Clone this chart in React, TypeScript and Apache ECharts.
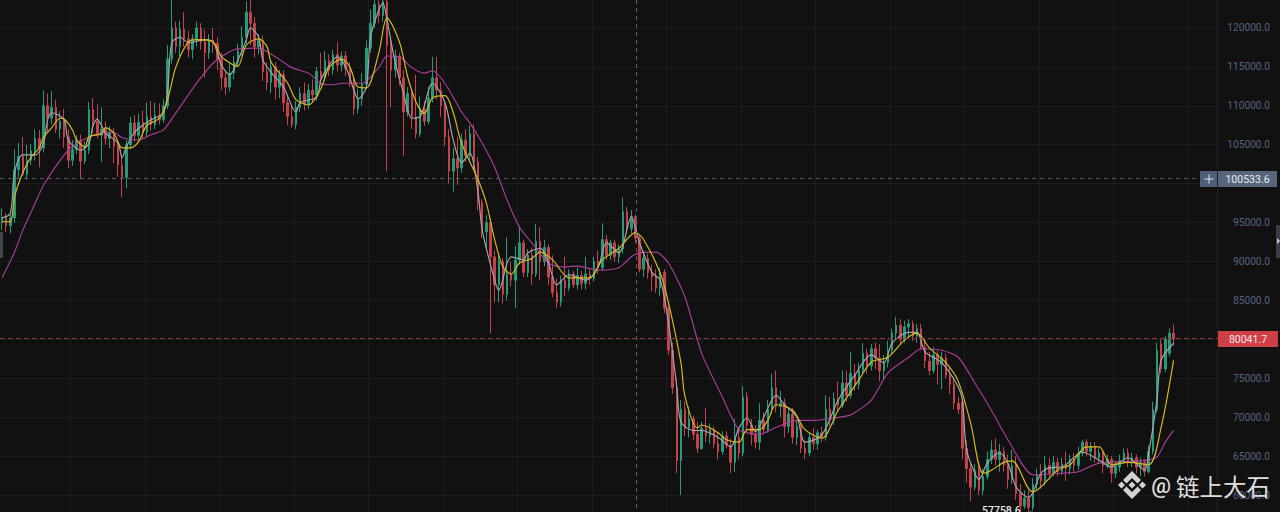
import React, { useEffect, useRef } from "react";
import * as echarts from "echarts";

const opens = [
95000,95600,94600,95600,101800,103500,101200,103000,104200,105800,
104600,110000,108400,109800,107000,108000,106000,103000,104400,105600,
102900,104300,109500,108000,106200,107000,105800,106600,104800,102400,
100800,105000,107800,106200,107900,106600,108600,107600,108800,108200,
110000,116000,120000,117600,119800,118600,117200,118600,120000,118200,
116800,118400,118000,116000,113600,112400,114200,115600,117000,118800,
122000,120600,117600,118400,114400,113000,115000,112400,114000,110400,
108600,107600,109800,111600,110200,112000,111400,114400,113600,115800,
114600,116600,115200,116400,114800,113000,109600,110800,112800,117400,
120600,123000,121600,123400,117800,114600,116400,113600,109200,111600,
108600,106400,109600,108000,111000,113600,112000,110000,106000,101600,
103200,102000,105600,103600,106400,102800,97600,93800,95000,90600,
87000,90000,85800,88400,87600,90200,92400,88600,90800,88400,
92600,90000,91800,88000,86000,84800,87600,86600,88400,87000,
88200,87200,88400,87800,90000,89200,92800,90800,92400,90600,
91600,96400,94200,95800,93000,89000,90400,88600,88000,86600,
88600,84000,78600,73800,64400,71000,68600,69800,67800,66000,
68600,67600,68400,66600,65600,67600,66400,64200,67400,65400,
72600,69000,67800,66800,69600,68400,71000,73800,71400,71800,
68800,70400,67400,68800,66000,65400,67400,66600,68000,67400,
71000,69600,72400,71600,74400,72800,75600,74200,76000,78200,
76600,78800,77600,76000,77000,78600,80800,81800,80000,81600,
82000,80400,81400,79000,77200,76000,78000,76800,77600,75400,
74200,71800,72000,66000,63400,61000,63200,60600,62400,64600,
65800,64600,65600,63800,62000,63800,60200,58600,59600,58400,
61400,62600,61800,63800,62800,64200,63000,64000,63400,64600,
63800,65400,66800,65600,66200,64800,65400,63800,64600,62800,
63600,64400,65400,64400,64800,63600,64200,63000,65600,71000,
79400,76200,78200,80800];

const closes = [
95600,94600,95600,101800,103500,101200,103000,104200,105800,104600,
110000,108400,109800,107000,108000,106000,103000,104400,105600,102900,
104300,109500,108000,106200,107000,105800,106600,104800,102400,100800,
105000,107800,106200,107900,106600,108600,107600,108800,108200,110000,
116000,120000,117600,119800,118600,117200,118600,120000,118200,116800,
118400,118000,116000,113600,112400,114200,115600,117000,118800,122000,
120600,117600,118400,114400,113000,115000,112400,114000,110400,108600,
107600,109800,111600,110200,112000,111400,114400,113600,115800,114600,
116600,115200,116400,114800,113000,109600,110800,112800,117400,120600,
123000,121600,123400,117800,114600,116400,113600,109200,111600,108600,
106400,109600,108000,111000,113600,112000,110000,106000,101600,103200,
102000,105600,103600,106400,102800,97600,93800,95000,90600,87000,
90000,85800,88400,87600,90200,92400,88600,90800,88400,92600,
90000,91800,88000,86000,84800,87600,86600,88400,87000,88200,
87200,88400,87800,90000,89200,92800,90800,92400,90600,91600,
96400,94200,95800,93000,89000,90400,88600,88000,86600,88600,
84000,78600,73800,64400,71000,68600,69800,67800,66000,68600,
67600,68400,66600,65600,67600,66400,64200,67400,65400,72600,
69000,67800,66800,69600,68400,71000,73800,71400,71800,68800,
70400,67400,68800,66000,65400,67400,66600,68000,67400,71000,
69600,72400,71600,74400,72800,75600,74200,76000,78200,76600,
78800,77600,76000,77000,78600,80800,81800,80000,81600,82000,
80400,81400,79000,77200,76000,78000,76800,77600,75400,74200,
71800,71000,66000,63400,61000,63200,60600,62400,64600,65800,
64600,65600,63800,62000,63800,60200,58600,59600,58400,61400,
62600,61800,63800,62800,64200,63000,64000,63400,64600,63800,
65400,66800,65600,66200,64800,65400,63800,64600,62800,63600,
64400,65400,64400,64800,63600,64200,63000,65600,71000,78600,
76200,80000,80800,80042];

const lows = [
94000,93800,93600,95000,100800,101000,100500,102400,103000,102100,
104000,106600,107600,106500,105800,104600,102000,102300,103800,100700,
102500,103800,106500,105800,102800,105000,104600,102600,100900,98300,
99400,104400,105400,105600,105800,106000,106800,107000,107600,107800,
109600,115400,116800,116400,117600,116200,116000,117600,117200,113600,
116000,116800,114600,112000,111400,111800,113400,115000,116400,118000,
117800,116200,116600,113200,112000,111600,110800,111000,109200,107500,
107200,107000,109200,109400,109600,110400,110600,112600,113200,113800,
114000,114400,114400,113800,112400,108800,109000,110000,112200,116800,
120000,120600,120800,101600,109800,113600,112600,103600,108600,107000,
105800,106000,107400,107600,110400,110800,108600,104800,100000,99000,
99800,101400,102800,103000,101800,96600,93000,91600,80800,84800,
84800,84600,85000,86800,84000,89600,88000,88000,87000,88000,
87600,89400,87000,85400,84000,84200,85600,86200,86600,86400,
86400,86400,87000,87400,88400,88800,90200,90200,90000,89800,
91000,93600,93600,92400,88600,88000,87800,86200,86000,85600,
83400,78000,73000,62800,60000,67600,67400,67000,65400,65800,
66800,66600,66000,64600,65200,66000,62800,63000,64600,65000,
68000,66400,66000,65800,67800,68000,70400,70600,70000,67400,
68000,66600,66400,65400,64600,65000,65800,65800,66800,67000,
68800,69000,70800,71200,72000,72400,73400,73600,75600,75600,
76000,76200,74600,74800,76400,78200,80000,79400,79600,80400,
79800,79600,78600,76300,75400,75600,74200,73600,75000,73000,
71000,70400,64600,61600,59200,60600,60000,60000,62000,64000,
63800,63000,63000,60800,61400,59400,57800,58200,57759,58000,
60600,60800,61200,62000,62400,62400,62600,61800,62600,63000,
63200,65000,65000,64400,64200,64000,62800,63400,61600,62200,
63000,64000,63600,63600,62800,62400,62400,62800,65200,70600,
75600,75800,77800,79200];

const highs = [
96800,96200,96000,104400,105200,106000,105000,105100,107000,106900,
112000,111600,111900,110800,109300,109600,107000,105600,106200,106300,
105400,110500,111000,110200,109800,108000,107400,107200,105600,103800,
105600,108600,108800,109000,109400,110400,110600,110400,110300,110800,
117800,124500,120800,120900,122000,119600,119200,120800,120600,119800,
119200,120000,118800,116800,114600,115600,116400,118000,120200,123400,
125000,121400,119200,119000,115600,115800,115600,114600,114600,111200,
110000,110600,112400,113000,112800,113400,115000,116800,117000,116600,
117200,118200,117000,117000,115600,113600,112200,114200,118400,122400,
124600,124800,124900,124200,118600,117200,116800,114600,112400,112000,
114000,111200,110600,112400,116300,116300,113000,110600,107000,104600,
106000,106400,107000,107500,107600,103400,98000,96000,95600,91400,
90800,90400,93100,90000,92000,94600,92800,91600,91800,94800,
94400,92800,92200,90800,87800,88200,90600,89000,88800,89200,
88800,90600,89000,90600,91400,94900,93400,92800,92800,92200,
98200,97000,96600,96000,93400,91400,91000,89600,89000,89200,
89000,84800,79600,75000,72200,72000,71400,70200,69400,69400,
71200,69200,68800,68000,68200,68200,67200,69800,68400,74000,
73200,69800,69000,71800,70600,72200,75600,76000,73400,72400,
71200,71200,69600,69200,67000,68000,68600,68400,68800,72800,
72600,73200,74600,76000,76000,78400,76800,77000,79500,78800,
79400,79600,79400,78000,79800,81400,82900,82600,82400,82600,
82400,82000,82000,80200,78400,79000,78600,78400,78200,76600,
75200,72600,72400,67000,64000,64000,63800,63400,65600,67000,
67300,66600,66200,65200,65800,65000,61400,60600,60600,62200,
63400,64000,65000,64800,65000,64800,64800,65600,65200,65400,
66200,67100,67200,66800,66800,66000,65800,65200,65000,64400,
65200,66000,66000,65400,65200,64800,64600,66400,72000,79600,
80000,80400,81400,81900];

const maFast = [[0,95600],[2,96200],[3,101400],[5,103700],[8,103700],[10,105200],[11,108200],[12,109100],[15,108200],[16,105600],[19,104300],[21,105200],[22,107500],[23,108300],[24,107500],[25,106500],[28,105200],[29,103300],[30,104700],[32,106600],[34,107500],[36,108200],[39,109100],[40,112000],[41,118100],[43,118800],[45,118100],[49,118500],[51,118200],[53,115200],[55,114000],[57,115900],[59,118500],[60,120000],[62,118800],[63,115900],[65,114300],[68,112400],[71,109200],[72,110400],[76,111100],[77,113300],[79,115200],[81,116300],[83,115000],[85,112000],[86,110900],[88,112400],[89,118800],[91,122300],[92,123200],[93,121000],[95,115500],[97,111600],[99,108400],[101,108600],[104,112900],[107,110400],[109,105600],[111,102700],[113,103900],[115,98800],[116,94000],[119,87600],[120,86300],[122,89800],[123,90600],[126,90200],[127,91100],[130,91700],[132,89800],[134,87000],[137,88300],[141,87600],[144,89300],[146,92400],[149,91100],[152,95700],[154,92400],[157,88600],[159,87600],[161,82100],[163,73900],[164,69400],[167,68300],[169,68300],[173,67400],[176,66200],[178,68600],[180,69900],[182,68100],[184,70000],[187,72800],[189,71600],[192,70000],[194,66800],[198,67700],[202,72200],[206,75400],[210,78000],[213,77000],[215,79500],[219,80900],[221,80900],[223,78400],[227,77000],[231,73900],[232,72200],[233,65800],[235,62800],[236,62000],[238,64100],[241,65400],[243,64100],[245,61000],[248,59700],[251,62800],[253,63500],[256,63600],[261,65500],[265,64500],[268,63600],[272,64800],[276,63200],[277,65400],[279,72200],[280,77300],[283,79500]];

const maMid = [[0,95100],[2,95100],[3,98300],[5,101400],[7,103400],[9,104600],[10,105900],[12,107200],[14,108400],[15,108300],[17,106900],[18,105600],[20,104700],[21,106000],[24,106400],[25,107200],[27,106500],[29,104600],[31,104600],[33,105400],[35,107500],[38,108400],[40,110800],[42,115000],[45,118200],[47,118500],[51,118200],[53,116300],[56,115200],[57,115100],[59,117800],[62,118600],[64,117600],[65,115600],[69,112900],[71,110800],[74,110100],[77,112200],[79,114900],[82,116000],[84,115000],[86,112400],[88,112300],[91,116800],[93,121300],[96,118200],[98,113700],[100,110500],[102,109000],[104,111000],[107,111300],[109,109100],[111,105200],[115,100500],[117,97500],[119,92800],[121,89300],[123,88400],[125,89800],[128,90400],[130,91200],[133,90200],[137,87900],[142,87900],[145,90200],[149,91700],[153,93700],[155,92800],[159,88500],[161,84700],[164,77000],[165,72600],[168,68600],[169,69000],[173,68000],[175,67100],[178,66800],[180,68400],[183,68400],[185,69600],[187,71600],[191,70900],[194,68400],[198,67300],[202,70900],[207,74800],[210,77100],[214,77700],[218,79900],[221,80800],[224,78900],[228,77000],[231,74600],[234,69200],[237,62800],[239,63200],[242,64200],[244,64400],[249,60400],[255,63200],[258,63900],[262,66200],[265,66200],[268,63900],[272,64200],[277,63900],[280,68700],[283,77300]];

const maSlow = [[0,87900],[3,91200],[5,94000],[8,97500],[10,99800],[14,103000],[17,104800],[21,106000],[24,106500],[27,106600],[29,105900],[33,105600],[36,106300],[39,106900],[42,109100],[47,112900],[51,115500],[56,117200],[62,117400],[66,116300],[70,114900],[74,114200],[77,112900],[80,112700],[82,112900],[87,112900],[91,114900],[93,116400],[96,116300],[99,114900],[102,114200],[104,114500],[107,112900],[111,109200],[113,107800],[116,105200],[119,102100],[122,97900],[125,94400],[129,91700],[132,89800],[135,89300],[139,89400],[144,88900],[149,89200],[152,90600],[154,91100],[158,91200],[161,89800],[165,85400],[169,78200],[174,72600],[178,68400],[183,67800],[187,68700],[192,69600],[196,69600],[201,69900],[205,70300],[210,72200],[214,75700],[219,77700],[222,78800],[227,78600],[231,77700],[235,74400],[239,70900],[243,67100],[249,62600],[256,62800],[260,63000],[265,64100],[275,64400],[279,64900],[281,66800],[283,68300]];

const yTicks = [60000, 65000, 70000, 75000, 85000, 90000, 95000, 105000, 110000, 115000, 120000];
const lastPrice = 80041.7;
const crosshairPrice = 100533.6;
const lowLabel = "57758.6";
const author = "链上大石";
const slotCount = 294;

const green = "#289a7c";
const red = "#c4424a";
const cats = Array.from({ length: slotCount }, (_, i) => String(i));
const candles = opens.map((o, i) => [o, closes[i], lows[i], highs[i]]);

const W = "#e4e4e4";
const poly = (ox: number, oy: number, pts: number[][]) => ({
  type: "polygon",
  z: 101,
  shape: { points: pts.map(([a, b]) => [a + ox, b + oy]) },
  style: { fill: W, opacity: 0.92 },
});
const text = (x: number, y: number, t: string, size: number, fill: string, align = "center", family = "Roboto", weight = "normal") => ({
  type: "text",
  z: 102,
  x,
  y,
  style: { text: t, font: `${weight} ${size}px ${family}`, fill, align, verticalAlign: "middle" },
});
const rect = (x: number, y: number, width: number, height: number, fill: string) => ({
  type: "rect",
  z: 100,
  shape: { x, y, width, height },
  style: { fill },
});

export default function App() {
  const ref = useRef<HTMLDivElement>(null);
  useEffect(() => {
    document.documentElement.style.margin = "0";
    document.body.style.margin = "0";
    document.body.style.background = "#111112";
    document.body.style.overflow = "hidden";
    const chart = echarts.init(ref.current!, undefined, { renderer: "svg" });
    const line = (name: string, data: number[][], color: string, z: number, smooth = 0.3) => ({
      name,
      type: "line",
      data,
      showSymbol: false,
      symbol: "none",
      smooth,
      z,
      lineStyle: { color, width: 1.15 },
      silent: true,
    });
    const staticElements = [
      {
        type: "line",
        z: 50,
        shape: { x1: 636.5, y1: 0, x2: 636.5, y2: 512 },
        style: { stroke: "#566068", lineWidth: 1, lineDash: [4, 4] },
      },
      rect(1218, 331, 60, 16, "#cf3f46"),
      text(1248, 339, "80041.7", 10.5, "#f3e6e6"),
      rect(1218, 171, 59, 16, "#56667d"),
      text(1247.5, 179, "100533.6", 10.5, "#e8ecf2"),
      rect(1200, 171, 17, 16, "#4f5f77"),
      {
        type: "line",
        z: 101,
        shape: { x1: 1204.5, y1: 179, x2: 1213.5, y2: 179 },
        style: { stroke: "#e4e8ee", lineWidth: 1 },
      },
      {
        type: "line",
        z: 101,
        shape: { x1: 1209, y1: 174.5, x2: 1209, y2: 183.5 },
        style: { stroke: "#e4e8ee", lineWidth: 1 },
      },
      rect(1276, 225, 4, 33, "#3a3e44"),
      {
        type: "polygon",
        z: 101,
        shape: { points: [[1277, 238], [1280, 241], [1277, 244]] },
        style: { fill: "#c9ccd0" },
      },
      rect(0, 232, 3, 26, "#44474c"),
      text(982, 510, lowLabel + " →", 10.5, "#e6e6e6", "left", "Roboto", "500"),
      poly(1118, 471, [[14, 10.5], [17.5, 14], [14, 17.5], [10.5, 14]]),
      poly(1118, 471, [[0, 14], [3.5, 10.5], [7, 14], [3.5, 17.5]]),
      poly(1118, 471, [[21, 14], [24.5, 10.5], [28, 14], [24.5, 17.5]]),
      poly(1118, 471, [[14, 0], [23, 9], [19.5, 12.5], [14, 7], [8.5, 12.5], [5, 9]]),
      poly(1118, 471, [[14, 28], [5, 19], [8.5, 15.5], [14, 21], [19.5, 15.5], [23, 19]]),
      text(1161, 485, "@", 22, "#dedede", "center", "Roboto", "500"),
      text(1176, 486, author, 23.5, "#dedede", "left", "'Noto Sans CJK SC'"),
    ];
    chart.setOption({
      animation: false,
      backgroundColor: "#111112",
      tooltip: { show: false },
      grid: { left: 0, top: -11, width: 1217, height: 545, containLabel: false, outerBoundsMode: "none" },
      xAxis: {
        type: "category",
        data: cats,
        boundaryGap: true,
        axisLine: { show: false },
        axisTick: { show: false },
        axisLabel: { show: false },
        splitLine: {
          show: true,
          interval: (i: number) => i % 18 === 17,
          lineStyle: { color: "#1c1c1d", width: 1 },
        },
      },
      yAxis: {
        type: "value",
        position: "right",
        min: 55000,
        max: 125000,
        interval: 5000,
        scale: true,
        axisLine: { show: true, lineStyle: { color: "#1f1f20" } },
        axisTick: { show: false },
        splitLine: { show: true, lineStyle: { color: "#1c1c1d", width: 1 } },
        axisLabel: {
          color: "#566480",
          fontFamily: "Roboto",
          fontSize: 10.2,
          align: "right",
          margin: 53,
          padding: [0, 0, 2, 0],
          formatter: (v: number) => (yTicks.includes(v) ? v.toFixed(1) : ""),
        },
      },
      series: [
        {
          name: "BTC",
          type: "candlestick",
          data: candles,
          barWidth: 2,
          clip: true,
          silent: true,
          itemStyle: { color: green, color0: red, borderColor: green, borderColor0: red, borderWidth: 1 },
        },
        line("MA99", maSlow, "#ab3d97", 3, 0.22),
        line("MA7", maFast, "#a4a7ab", 4),
        line("MA25", maMid, "#d6bd1f", 5),
      ],
      graphic: { elements: staticElements },
    });
    const yLast = Math.round(chart.convertToPixel({ yAxisIndex: 0 }, lastPrice)) - 0.5;
    const yCross = Math.round(chart.convertToPixel({ yAxisIndex: 0 }, crosshairPrice)) - 0.5;
    chart.setOption({
      graphic: {
        elements: [
          ...staticElements,
          {
            type: "line",
            z: 49,
            shape: { x1: 0, y1: yCross, x2: 1200, y2: yCross },
            style: { stroke: "#5a5a5c", lineWidth: 1, lineDash: [4, 4] },
          },
          {
            type: "line",
            z: 49,
            shape: { x1: 0, y1: yLast, x2: 1218, y2: yLast },
            style: { stroke: "#93353a", lineWidth: 1, lineDash: [5, 3] },
          },
        ],
      },
    });
    return () => chart.dispose();
  }, []);
  return <div ref={ref} style={{ width: 1280, height: 512 }} />;
}
